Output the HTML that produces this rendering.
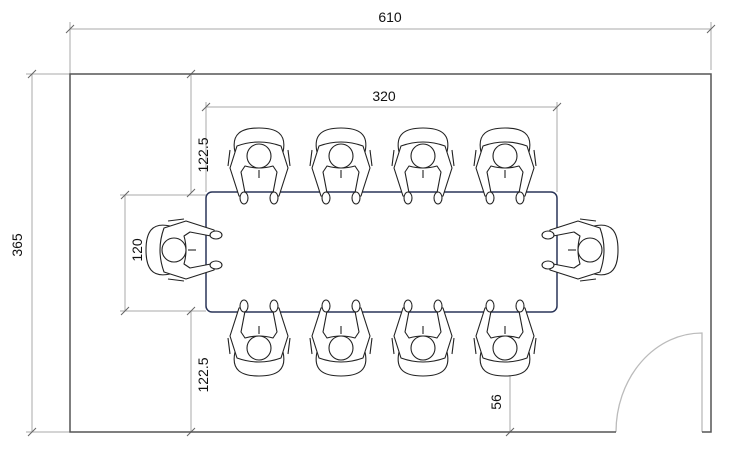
<!DOCTYPE html>
<html><head><meta charset="utf-8"><style>
html,body{margin:0;padding:0;background:#fff;}
svg{display:block}
text{font-family:"Liberation Sans",sans-serif;font-size:14px;fill:#111;}
</style></head><body>
<svg width="755" height="456" viewBox="0 0 755 456">
<defs>
<g id="p" fill="#fff" stroke="#222" stroke-width="1.1" stroke-linejoin="round">
  <path d="M-24,-8 C-28,-26 -18,-32 0,-32 C18,-32 28,-26 24,-8 Z"/>
  <path d="M-22,-14 Q0,-22 22,-14 L29,8 L20,36 L13,38 L18,12 L14,6 Q0,10 -14,6 L-18,12 L-13,38 L-20,36 L-29,8 Z"/>
  <path d="M-29,-10 L-31,6 M29,-10 L31,6" fill="none"/>
  <circle cx="0" cy="-4" r="12"/>
  <path d="M0,10 L0,18" fill="none"/>
  <ellipse cx="-15" cy="38" rx="4" ry="6"/>
  <ellipse cx="15" cy="38" rx="4" ry="6"/>
</g>
</defs>
<g stroke="#aaa" stroke-width="1" fill="none">
  <path d="M70,29H711M70,22V74M711,22V70"/>
  <path d="M32,74V432M26,74H70M26,432H70"/>
  <path d="M206,107H557M206,102V192M557,102V192"/>
  <path d="M191,74V193M191,311V432M186,74H206"/>
  <path d="M125,195V311M120,195H206M120,311H206"/>
  <path d="M510,372V432"/>
  <path d="M616,432 A86,99 0 0 1 702,333 V432" stroke="#bbb" stroke-width="1.3"/>
</g>
<g stroke="#666" stroke-width="1">
  <path d="M66,33l8,-8M707,33l8,-8M28,78l8,-8M28,436l8,-8M187,78l8,-8M187,197l8,-8M187,315l8,-8M187,436l8,-8M121,199l8,-8M121,315l8,-8M202,111l8,-8M553,111l8,-8M506,376l8,-8M506,436l8,-8"/>
</g>
<path d="M616,432H70V74H711V432H702" fill="none" stroke="#555" stroke-width="1.5"/>
<rect x="206" y="192" width="351" height="120" rx="6" fill="none" stroke="#2a3558" stroke-width="1.5"/>
<use href="#p" transform="translate(259,160)"/>
<use href="#p" transform="translate(341,160)"/>
<use href="#p" transform="translate(423,160)"/>
<use href="#p" transform="translate(505,160)"/>
<use href="#p" transform="translate(259,344) rotate(180)"/>
<use href="#p" transform="translate(341,344) rotate(180)"/>
<use href="#p" transform="translate(423,344) rotate(180)"/>
<use href="#p" transform="translate(505,344) rotate(180)"/>
<use href="#p" transform="translate(178,250) rotate(-90)"/>
<use href="#p" transform="translate(586,250) rotate(90)"/>
<text x="390" y="22" text-anchor="middle">610</text>
<text x="384" y="101" text-anchor="middle">320</text>
<text transform="translate(22,245) rotate(-90)" text-anchor="middle">365</text>
<text transform="translate(208,155) rotate(-90)" text-anchor="middle">122.5</text>
<text transform="translate(208,375) rotate(-90)" text-anchor="middle">122.5</text>
<text transform="translate(142,250) rotate(-90)" text-anchor="middle">120</text>
<text transform="translate(501,402) rotate(-90)" text-anchor="middle">56</text>
</svg>
</body></html>
